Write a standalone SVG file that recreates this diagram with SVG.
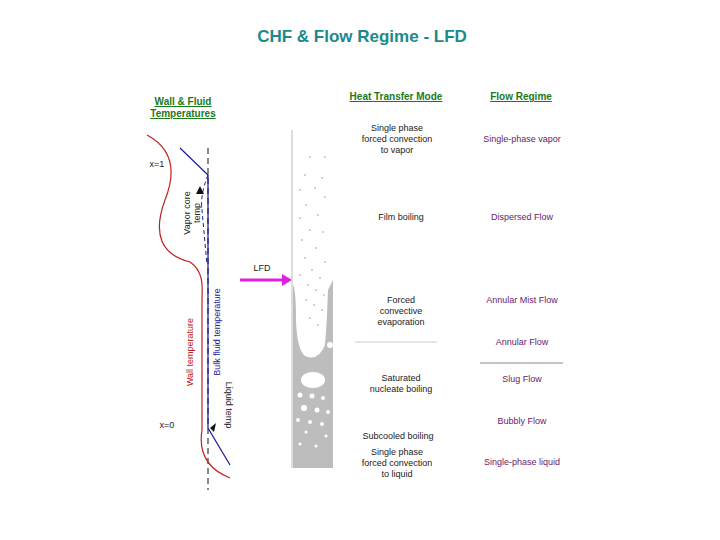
<svg xmlns="http://www.w3.org/2000/svg" width="720" height="540" viewBox="0 0 720 540">
<style>
.t{font-family:"Liberation Sans",Arial,sans-serif;font-size:9px;fill:#222;text-anchor:middle}
.p{font-family:"Liberation Sans",Arial,sans-serif;font-size:9px;fill:#6a1a6a;text-anchor:middle}
.h{font-family:"Liberation Sans",Arial,sans-serif;font-size:10px;font-weight:bold;fill:#1a7a1a;text-anchor:middle;text-decoration:underline}
.d{fill:#999}
</style>
<rect width="720" height="540" fill="#fff"/>
<text x="362" y="42" font-family="Liberation Sans,Arial,sans-serif" font-size="17" font-weight="bold" fill="#1a8a8a" text-anchor="middle">CHF &amp; Flow Regime - LFD</text>
<text class="h" x="183" y="105">Wall &amp; Fluid</text>
<text class="h" x="183" y="117">Temperatures</text>
<text class="h" x="396" y="100">Heat Transfer Mode</text>
<text class="h" x="521" y="100">Flow Regime</text>
<text class="t" x="157" y="167" font-size="7">x=1</text>
<text class="t" x="167" y="428" font-size="7">x=0</text>
<line x1="208" y1="148" x2="208" y2="490" stroke="#111" stroke-dasharray="6,4"/>
<g id="connectors" fill="none">
<path d="M180,148 L208,175 L208,428 L230,465" stroke="#1a1a9a" stroke-width="1.2"/>
<path d="M208,175 Q200,195 202,210 L207,265" stroke="#1a1a9a" stroke-dasharray="4,3"/>
<path d="M147,135 C175,150 175,175 165,200 C152,235 162,255 190,262 C205,272 202,290 202,300 L202,430 C198,455 210,470 230,478" stroke="#c02020" stroke-width="1.2"/>
<polygon points="200,186 196,194 204,194" fill="#111" stroke="none"/>
<polygon points="216,423 210,428 214,432" fill="#111" stroke="none"/>
<line x1="240" y1="280" x2="282" y2="280" stroke="#e020e0" stroke-width="3"/>
<polygon points="282,274 292,280 282,286" fill="#e020e0"/>
</g>
<text class="t" x="262" y="271" font-size="8">LFD</text>
<text class="t" transform="translate(190,213) rotate(-90)">Vapor core</text>
<text class="t" transform="translate(200,213) rotate(-90)">temp</text>
<text class="t" transform="translate(193,352) rotate(-90)" style="fill:#c02020">Wall temperature</text>
<text class="t" transform="translate(220,332) rotate(-90)" style="fill:#1a1a9a">Bulk fluid temperature</text>
<text class="t" transform="translate(226,405) rotate(90)">Liquid temp</text>
<g id="tube">
<line x1="292" y1="130" x2="292" y2="468" stroke="#bbb"/>
<path d="M293,285 Q296,290 296,320 Q297,350 305,356 Q318,362 325,345 Q327,320 328,290 L333,280 L333,468 L293,468 Z" fill="#bdbdbd"/>
<ellipse cx="313" cy="380" rx="12" ry="8" fill="#fff"/>
<rect x="306" y="378" width="14" height="6" fill="#fff"/>
<g fill="#fff"><circle cx="330" cy="345" r="3"/><circle cx="300" cy="395" r="2.5"/><circle cx="312" cy="396" r="2.5"/><circle cx="323" cy="398" r="2"/><circle cx="304" cy="408" r="3"/><circle cx="317" cy="410" r="2.5"/><circle cx="328" cy="412" r="2"/><circle cx="298" cy="420" r="2"/><circle cx="310" cy="422" r="2"/><circle cx="322" cy="424" r="2"/><circle cx="306" cy="432" r="1.5"/><circle cx="326" cy="436" r="1.5"/><circle cx="300" cy="444" r="1.5"/><circle cx="316" cy="446" r="1.5"/></g>
<g class="d"><circle cx="310" cy="157" r=".8"/><circle cx="325" cy="157" r=".8"/><circle cx="305" cy="175" r=".8"/><circle cx="322" cy="178" r=".8"/><circle cx="300" cy="190" r=".8"/><circle cx="315" cy="188" r=".8"/><circle cx="325" cy="197" r=".8"/><circle cx="306" cy="205" r=".8"/><circle cx="300" cy="218" r=".8"/><circle cx="318" cy="215" r=".8"/><circle cx="310" cy="230" r=".8"/><circle cx="323" cy="232" r=".8"/><circle cx="302" cy="240" r=".8"/><circle cx="316" cy="248" r=".8"/><circle cx="305" cy="258" r=".8"/><circle cx="325" cy="262" r=".8"/><circle cx="312" cy="270" r=".8"/><circle cx="300" cy="275" r=".8"/><circle cx="320" cy="278" r=".8"/><circle cx="308" cy="285" r=".8"/><circle cx="316" cy="290" r=".8"/><circle cx="324" cy="295" r=".8"/><circle cx="306" cy="300" r=".8"/><circle cx="314" cy="305" r=".8"/><circle cx="322" cy="310" r=".8"/><circle cx="310" cy="318" r=".8"/><circle cx="318" cy="325" r=".8"/></g>
</g>
<g id="modes">
<text class="t" x="397" y="131">Single phase</text><text class="t" x="397" y="142">forced convection</text><text class="t" x="397" y="153">to vapor</text>
<text class="t" x="401" y="220">Film boiling</text>
<text class="t" x="401" y="303">Forced</text><text class="t" x="401" y="314">convective</text><text class="t" x="401" y="325">evaporation</text>
<line x1="355" y1="342" x2="437" y2="342" stroke="#ccc"/>
<text class="t" x="401" y="381">Saturated</text><text class="t" x="401" y="392">nucleate boiling</text>
<text class="t" x="398" y="439">Subcooled boiling</text>
<text class="t" x="397" y="455">Single phase</text><text class="t" x="397" y="466">forced convection</text><text class="t" x="397" y="477">to liquid</text>
</g>
<g id="regimes">
<text class="p" x="522" y="142">Single-phase vapor</text>
<text class="p" x="522" y="220">Dispersed Flow</text>
<text class="p" x="522" y="303">Annular Mist Flow</text>
<text class="p" x="522" y="345">Annular Flow</text>
<line x1="480" y1="363" x2="563" y2="363" stroke="#888"/>
<text class="p" x="522" y="382">Slug Flow</text>
<text class="p" x="522" y="424">Bubbly Flow</text>
<text class="p" x="522" y="465">Single-phase liquid</text>
</g>
</svg>
